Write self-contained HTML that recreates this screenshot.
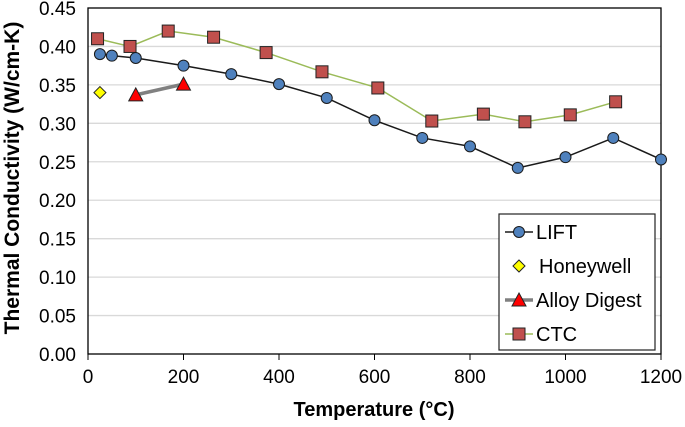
<!DOCTYPE html>
<html><head><meta charset="utf-8"><style>
body{margin:0;background:#fff;}
svg text{font-family:"Liberation Sans",Arial,sans-serif;fill:#000;}
</style></head><body>
<svg id="c" width="685" height="422"></svg>
<script>
const lift_t=[25,50,100,200,300,400,500,600,700,800,900,1000,1100,1200];
const lift_k=[0.390,0.388,0.385,0.375,0.364,0.351,0.333,0.304,0.281,0.270,0.242,0.256,0.281,0.253];
const ctc_t=[20,88,168,263,373,490,607,720,828,915,1010,1105];
const ctc_k=[0.410,0.400,0.420,0.412,0.392,0.367,0.346,0.303,0.312,0.302,0.311,0.328];
const hw_t=[25];
const hw_k=[0.340];
const ad_t=[100,200];
const ad_k=[0.337,0.351];
const xTicks=[0,200,400,600,800,1000,1200];
const yTicks=[0,0.05,0.10,0.15,0.20,0.25,0.30,0.35,0.40,0.45];
const NS="http://www.w3.org/2000/svg";
const svg=document.getElementById('c');
const X0=88,X1=661,Y0=354,Y1=8;
const sx=v=>X0+(v-0)/1200*(X1-X0);
const sy=v=>Y0-(v/0.45)*(Y0-Y1);
function mk(t,a,p){const e=document.createElementNS(NS,t);for(const k in a)e.setAttribute(k,a[k]);(p||svg).appendChild(e);return e;}
yTicks.forEach(v=>{
  if(v>0&&v<0.45){const g=mk('line',{x1:X0,x2:X1,y1:sy(v),y2:sy(v),stroke:'#d9d9d9','stroke-width':1.3});
  
  }
  const t=mk('text',{x:X0-12,y:sy(v)+7,'text-anchor':'end','font-size':19});t.textContent=v.toFixed(2);
  
  
});
xTicks.forEach(v=>{
  const l=mk('line',{x1:sx(v),x2:sx(v),y1:Y0,y2:Y0+6,stroke:'#000'});
  
  
  const t=mk('text',{x:sx(v),y:Y0+29,'text-anchor':'middle','font-size':19});t.textContent=v;
  
  
});
const fr=mk('rect',{x:X0,y:Y1,width:X1-X0,height:Y0-Y1,fill:'none',stroke:'#000','stroke-width':1.3});


function line(ts,ks,col,w,name){const p=mk('polyline',{points:ts.map((t,i)=>sx(t)+','+sy(ks[i])).join(' '),fill:'none',stroke:col,'stroke-width':w});
  
  }
function circ(x,y){return mk('circle',{cx:x,cy:y,r:5.5,fill:'#4f81bd',stroke:'#1a1a1a','stroke-width':1});}
function sq(x,y){return mk('rect',{x:x-6,y:y-6,width:12,height:12,fill:'#c0504d',stroke:'#222','stroke-width':1});}
function dia(x,y){return mk('polygon',{points:`${x},${y-6} ${x+6},${y} ${x},${y+6} ${x-6},${y}`,fill:'#ffff00',stroke:'#222','stroke-width':1});}
function tri(x,y){return mk('polygon',{points:`${x},${y-7} ${x+7},${y+6} ${x-7},${y+6}`,fill:'#ff0000',stroke:'#222','stroke-width':1});}
line(ctc_t,ctc_k,'#9bbb59',1.5,'ctc-line');
line(lift_t,lift_k,'#1a1a1a',1.5,'lift-line');
line(ad_t,ad_k,'#808080',3.5,'alloy-digest-line');
ctc_t.forEach((t,i)=>{const e=sq(sx(t),sy(ctc_k[i]));
  
  });
lift_t.forEach((t,i)=>{const e=circ(sx(t),sy(lift_k[i]));
  
  });
hw_t.forEach((t,i)=>{const e=dia(sx(t),sy(hw_k[i]));
  
  });
ad_t.forEach((t,i)=>{const e=tri(sx(t),sy(ad_k[i]));
  
  });
// legend
const lg=mk('rect',{x:499,y:214,width:156,height:136,fill:'#fff',stroke:'#222','stroke-width':1.2});


const items=[['LIFT','lift'],['Honeywell','hw'],['Alloy Digest','ad'],['CTC','ctc']];
items.forEach((it,i)=>{
  const y=232+i*34, cx=519;
  if(it[1]=='lift'){mk('line',{x1:505,x2:533,y1:y,y2:y,stroke:'#1a1a1a','stroke-width':1.5});circ(cx,y);}
  if(it[1]=='hw'){dia(cx,y);}
  if(it[1]=='ad'){mk('line',{x1:505,x2:533,y1:y,y2:y,stroke:'#808080','stroke-width':3.5});tri(cx,y);}
  if(it[1]=='ctc'){mk('line',{x1:505,x2:533,y1:y,y2:y,stroke:'#9bbb59','stroke-width':1.5});sq(cx,y);}
  const t=mk('text',{x:it[1]=='hw'?539:536,y:y+7,'font-size':20});t.textContent=it[0];
  
  
});
const xt=mk('text',{x:374,y:416,'text-anchor':'middle','font-size':20,'font-weight':'bold'});xt.textContent='Temperature (°C)';


const yt=mk('text',{x:0,y:0,'text-anchor':'middle','font-size':21,'font-weight':'bold',transform:'translate(19,178) rotate(-90)'});yt.textContent='Thermal Conductivity (W/cm-K)';


</script>
</body></html>
